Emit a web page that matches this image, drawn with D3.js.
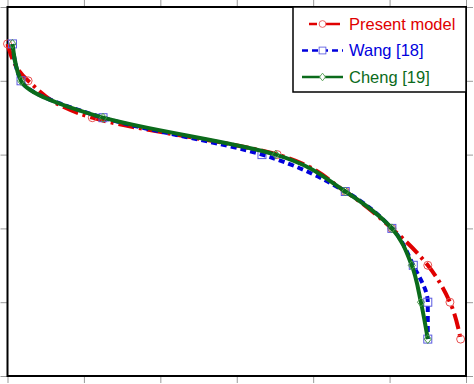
<!DOCTYPE html>
<html>
<head>
<meta charset="utf-8">
<script src="https://cdn.jsdelivr.net/npm/d3@7"></script>
<style>
  html, body { margin: 0; padding: 0; background: #fff; }
  svg { display: block; }
</style>
</head>
<body>
<svg id="chart"></svg>
<script>
// levels where each series was sampled (the y value of every marker)
const levels = [4.5, 4, 3.5, 3, 2.5, 2, 1.5, 1, 0.5];

// x value of each series at those levels
const presentModel = [0.0, 0.27, 1.11, 3.53, 4.42, 5.03, 5.50, 5.79, 5.93];
const wang = [0.065, 0.177, 1.25, 3.33, 4.42, 5.03, 5.31, 5.50, 5.50];
const cheng = [0.065, 0.177, 1.25, 3.51, 4.42, 5.03, 5.29, 5.41, 5.50];

const xTicks = [0, 1, 2, 3, 4, 5, 6];
const yTicks = [0, 1, 2, 3, 4, 5];

const width = 474, height = 384;
const margin = { top: 7, right: 8, bottom: 8, left: 7.5 };

const svg = d3.select("#chart").attr("width", width).attr("height", height);

const x = d3.scaleLinear().domain([0, 6]).range([margin.left, width - margin.right]);
const y = d3.scaleLinear().domain([0, 5]).range([height - margin.bottom, margin.top]);

// ticks on all four sides, pointing outwards, no labels
const tickSpecs = [
  [d3.axisBottom(x).tickValues(xTicks), `translate(0,${y(0)})`],
  [d3.axisTop(x).tickValues(xTicks), `translate(0,${y(5)})`],
  [d3.axisLeft(y).tickValues(yTicks), `translate(${x(0)},0)`],
  [d3.axisRight(y).tickValues(yTicks), `translate(${x(6)},0)`],
];
tickSpecs.forEach(([axis, t]) => {
  const g = svg.append("g")
    .attr("transform", t)
    .call(axis.tickSizeInner(7).tickSizeOuter(0).tickFormat(""));
  g.select(".domain").remove();
  g.selectAll(".tick line").attr("stroke", "#999").attr("stroke-width", 1);
});

svg.append("rect")
  .attr("x", x(0)).attr("y", y(5))
  .attr("width", x(6) - x(0)).attr("height", y(0) - y(5))
  .attr("fill", "none").attr("stroke", "#000").attr("stroke-width", 2);

const series = [
  { name: "Present model", values: presentModel, color: "#e00000", dash: "16,5,3,5",
    marker: "circle", markColor: "#e85050" },
  { name: "Wang [18]", values: wang, color: "#0000dd", dash: "6,4",
    marker: "square", markColor: "#5a5ae0" },
  { name: "Cheng [19]", values: cheng, color: "#0b6b1b", dash: null,
    marker: "diamond", markColor: "#4a9a4a" },
];

const line = d3.line()
  .x((d) => x(d[0]))
  .y((d) => y(d[1]))
  .curve(d3.curveMonotoneY);

function drawMarker(sel, type, color) {
  if (type === "circle") {
    sel.append("circle").attr("r", 4);
  } else if (type === "square") {
    sel.append("rect").attr("x", -4).attr("y", -4).attr("width", 8).attr("height", 8);
  } else {
    sel.append("path").attr("d", "M0,-4.5L3.5,0L0,4.5L-3.5,0Z");
  }
  sel.selectAll("*").attr("fill", "none").attr("stroke", color).attr("stroke-width", 1);
}

series.forEach((s) => {
  const pts = s.values.map((v, i) => [v, levels[i]]);
  svg.append("path")
    .datum(pts)
    .attr("d", line)
    .attr("fill", "none")
    .attr("stroke", s.color)
    .attr("stroke-width", 4)
    .attr("stroke-dasharray", s.dash)
    .attr("stroke-linejoin", "round");

  svg.append("g")
    .selectAll("g")
    .data(pts)
    .join("g")
    .attr("transform", (d) => `translate(${x(d[0])},${y(d[1])})`)
    .each(function () { drawMarker(d3.select(this), s.marker, s.markColor); });
});

// legend in the top right corner
const legend = svg.append("g");
legend.append("rect")
  .attr("x", 293).attr("y", y(5))
  .attr("width", x(6) - 293).attr("height", 85)
  .attr("fill", "#fff").attr("stroke", "#000").attr("stroke-width", 1.5);

series.forEach((s, i) => {
  const cy = 24 + i * 26.5;
  const row = legend.append("g");
  row.append("line")
    .attr("x1", i === 0 ? 309 : 302).attr("x2", 343)
    .attr("y1", cy).attr("y2", cy)
    .attr("stroke", s.color).attr("stroke-width", 2.5)
    .attr("stroke-dasharray", i === 0 ? "8,3,20" : s.dash);
  const m = row.append("g").attr("transform", `translate(322.5,${cy})`);
  drawMarker(m, s.marker, s.markColor);
  m.selectAll("*").attr("transform", "scale(0.85)").attr("fill", "#fff");
  row.append("text")
    .attr("x", 349).attr("y", cy + 5.8)
    .attr("fill", s.color)
    .style("font-family", "'Liberation Sans', Arial, sans-serif")
    .style("font-size", "16.5px")
    .text(s.name);
});
</script>
</body>
</html>
